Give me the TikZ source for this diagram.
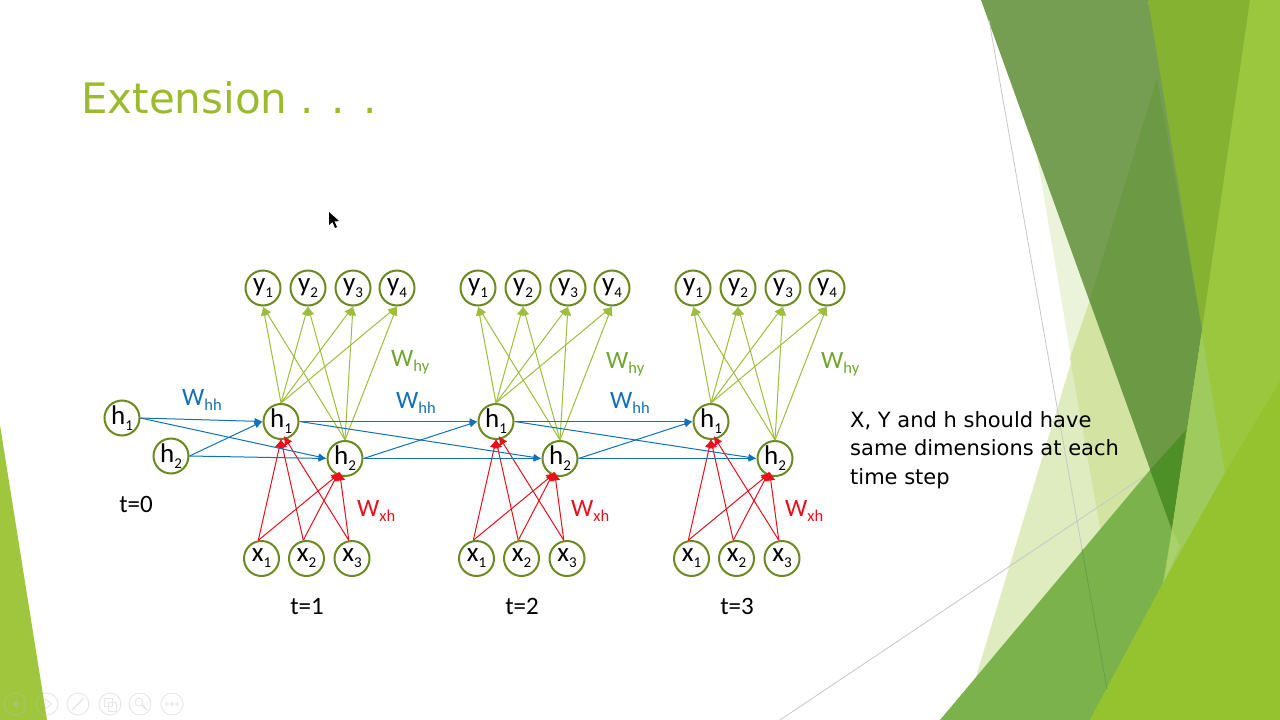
\documentclass[tikz,border=0pt]{standalone}
\usepackage{fontspec}
\setmainfont{Carlito}
\newfontfamily\slidefont{DejaVu Sans}
\usetikzlibrary{arrows.meta}
\definecolor{nodeol}{HTML}{6B8A22}
\definecolor{hhblue}{HTML}{1270B8}
\definecolor{xhred}{HTML}{E8101A}
\definecolor{hygreen}{HTML}{9DBD3E}
\definecolor{hylabel}{HTML}{6FA532}
\definecolor{titlegreen}{HTML}{9ABB2E}
\definecolor{fDark}{HTML}{769E53}
\definecolor{fDarker}{HTML}{6C9944}
\definecolor{fOlive}{HTML}{86B232}
\definecolor{fBright}{HTML}{9AC73E}
\definecolor{fLow}{HTML}{95C32F}
\definecolor{fMid}{HTML}{7BB24C}
\definecolor{fJoin}{HTML}{4F8F28}
\definecolor{fStrip}{HTML}{EBF3DA}
\definecolor{fTri}{HTML}{DFECC0}
\definecolor{fOver}{HTML}{D3E4A2}
\definecolor{fPatch}{HTML}{9FCB5E}
\definecolor{fPale}{HTML}{A9D26C}
\definecolor{fLeft}{HTML}{A0C63E}
\tikzset{
  neuron/.style={circle,draw=nodeol,line width=2pt,fill=white,minimum size=35pt,inner sep=0pt,font=\fontsize{27}{27}\selectfont},
  hhedge/.style={draw=hhblue,line width=1pt,-{Latex[length=8pt,width=7pt]}},
  xhedge/.style={draw=xhred,line width=1pt,-{Latex[length=9pt,width=9pt]}},
  hyedge/.style={draw=hygreen,line width=1pt,-{Latex[length=9pt,width=8pt]}},
  tlabel/.style={font=\fontsize{25}{25}\selectfont,text=black,inner sep=0pt},
  wlabel/.style={font=\fontsize{25}{25}\selectfont,inner sep=0pt,anchor=base west},
  tool/.style={circle,draw=black!25,draw opacity=.4,line width=.8pt,minimum size=22pt,inner sep=0pt},
  toolmark/.style={draw=black!25,draw opacity=.4,line width=.8pt},
  hairline/.style={draw=black!22,line width=.8pt}
}
\newcommand{\nsub}[2]{#1\raisebox{-6pt}{\fontsize{15}{15}\selectfont #2}}
\newcommand{\wsub}[1]{W\raisebox{-5pt}{\fontsize{16.5}{16.5}\selectfont #1}}
\begin{document}
\begin{tikzpicture}[x=1pt,y=-1pt]
\useasboundingbox (0,0) rectangle (1280,720);
\fill[white] (0,0) rectangle (1280,720);
% background facets
\fill[fTri] (1090,300) -- (975,680) -- (1000,680) -- (1150,480) -- cycle;
\fill[fStrip] (1037,156) -- (1100,528) -- (1110,530) -- (1160,470) -- (1095,290) -- cycle;
\fill[fOver] (1090,300) -- (1070,358) -- (1100,528) -- (1110,530) -- (1160,470) -- cycle;
\fill[fMid] (940,720) -- (1150,470) -- (1172,530) -- (1170,590) -- (1100,720) -- cycle;
\fill[fOlive] (1148,0) -- (1260,0) -- (1215,340) -- (1190,330) -- cycle;
\fill[fDark] (981,0) -- (1148,0) -- (1202,330) -- (1172,530) -- cycle;
\fill[fDarker] (1157,78) -- (1202,330) -- (1172,530) -- (1090,300) -- cycle;
\fill[fJoin] (1150,470) -- (1186,430) -- (1172,530) -- cycle;
\fill[fBright] (1250,0) -- (1280,0) -- (1280,720) -- (1090,720) -- (1163,583) -- (1172,530) -- (1202,330) -- cycle;
\fill[fPatch] (1202,333) -- (1225,473) -- (1163,583) -- (1172,530) -- cycle;
\fill[fPale] (1172,530) -- (1180,546) -- (1164,583) -- cycle;
\fill[fLow] (1280,381) -- (1225,473) -- (1163,583) -- (1090,720) -- (1280,720) -- cycle;
\draw[hairline] (989,20) -- (1082,549);
\draw[draw=black!12!fMid,line width=.8pt] (1082,549) -- (1107,689);
\draw[hairline] (780,720) -- (1143,477);
\fill[fLeft] (0,425) -- (47,720) -- (0,720) -- cycle;
% slide-show toolbar
\foreach \n/\cx in {a/15,b/47,c/78,d/110,e/140,f/172}
  \node[tool] (tb\n) at (\cx,704) {};
\fill[black!25,fill opacity=.4] (18,700) -- (18,708) -- (12,704) -- cycle;
\draw[toolmark] (45,699) -- (52,704) -- (45,709) -- cycle;
\draw[toolmark,line width=1.2pt] (72,710) -- (84,698);
\draw[toolmark] (104,698) rectangle (112,706) (108,702) rectangle (116,711);
\draw[toolmark] (139,702) circle (4pt);
\draw[toolmark,line width=1.5pt] (142,705) -- (147,710);
\foreach \mx in {167,172,177} \draw[toolmark] (\mx,704) circle (1.5pt);
% mouse pointer
\fill[black] (329,212) -- (329,225) -- (332.5,222) -- (335,228) -- (337,227) -- (334.5,221.5) -- (339,221) -- cycle;
% title and note
\node[anchor=base west,inner sep=0,text=titlegreen,font=\slidefont\fontsize{42}{42}\selectfont] (title) at (81,113) {Extension . . .};
\node[anchor=north west,inner sep=0,align=left,font=\slidefont\fontsize{21}{28.6}\selectfont] (note) at (850,411) {X, Y and h should have\\same dimensions at each\\time step};
% t = 0
\node[neuron] (h10) at (122,418) {\nsub{h}{1}};
\node[neuron] (h20) at (171,456) {\nsub{h}{2}};
\node[tlabel] (t0) at (136,504) {t=0};
% columns
\foreach \t/\d in {1/0,2/215,3/430} {
  \node[neuron] (y1\t) at (263+\d,288) {\nsub{y}{1}};
  \node[neuron] (y2\t) at (308+\d,288) {\nsub{y}{2}};
  \node[neuron] (y3\t) at (353+\d,288) {\nsub{y}{3}};
  \node[neuron] (y4\t) at (397+\d,288) {\nsub{y}{4}};
  \node[neuron] (h1\t) at (281+\d,421.5) {\nsub{h}{1}};
  \node[neuron] (h2\t) at (345+\d,458.5) {\nsub{h}{2}};
  \node[neuron] (x1\t) at (261.5+\d,558.5) {\nsub{x}{1}};
  \node[neuron] (x2\t) at (306.5+\d,558.5) {\nsub{x}{2}};
  \node[neuron] (x3\t) at (352+\d,558.5) {\nsub{x}{3}};
  \node[tlabel] (t\t) at (307+\d,606.5) {t=\t};
  \node[wlabel,text=hhblue] (wh\t) at (182+\d-\t+1,405+\ifnum\t=1 0\else 3\fi) {\wsub{hh}};
  \node[wlabel,text=xhred] (wx\t) at (357+\d-\t+1,516) {\wsub{xh}};
  \node[wlabel,text=hylabel] (wy\t) at (391+\d,366+\ifnum\t=1 0\else 2\fi) {\wsub{hy}};
  \foreach \j in {1,2,3,4} {
    \draw[hyedge] (h1\t.north) -- (y\j\t.south);
    \draw[hyedge] (h2\t.north) -- (y\j\t.south);
  }
  \draw[xhedge,shorten >=-1pt] (x1\t.100) -- (h1\t.south);
  \draw[xhedge,shorten >=-1pt] (x2\t.100) -- (h1\t.south);
  \draw[xhedge,shorten >=-4pt] (x3\t.100) -- (h1\t.285);
  \draw[xhedge,shorten >=-4pt] (x1\t.100) -- (h2\t.245);
  \draw[xhedge,shorten >=-4pt] (x2\t.100) -- (h2\t.245);
  \draw[xhedge,shorten >=-5pt] (x3\t.100) -- (h2\t.255);
}
% recurrent links
\foreach \p/\t in {0/1,1/2,2/3} {
  \foreach \a in {1,2} \foreach \b in {1,2}
    \draw[hhedge] (h\a\p.east) -- (h\b\t.west);
}
\end{tikzpicture}
\end{document}
